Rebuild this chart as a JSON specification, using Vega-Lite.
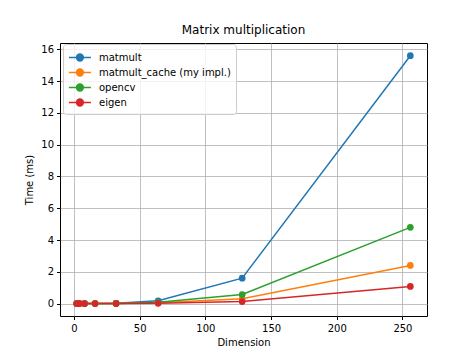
{
  "$schema": "https://vega.github.io/schema/vega-lite/v6.json",
  "width": 367,
  "height": 273,
  "padding": {"left": 60, "top": 43, "right": 47, "bottom": 39},
  "autosize": {"type": "none"},
  "config": {
    "font": "DejaVu Sans",
    "view": {"stroke": "black", "strokeWidth": 1},
    "axis": {"labelFont": "DejaVu Sans", "titleFont": "DejaVu Sans", "labelFontSize": 10, "titleFontSize": 10, "titleFontWeight": "normal", "labelColor": "black", "titleColor": "black", "tickColor": "black", "domain": false, "gridColor": "#b0b0b0", "gridWidth": 0.8, "tickSize": 3.5}
  },
  "title": {"text": "Matrix multiplication", "fontSize": 12, "fontWeight": "normal", "font": "DejaVu Sans", "color": "black", "offset": 6},
  "data": {"values": [
    {"dim": 2, "t": 0.0, "s": "matmult"},
    {"dim": 4, "t": 0.0, "s": "matmult"},
    {"dim": 8, "t": 0.0, "s": "matmult"},
    {"dim": 16, "t": 0.0, "s": "matmult"},
    {"dim": 32, "t": 0.02, "s": "matmult"},
    {"dim": 64, "t": 0.18, "s": "matmult"},
    {"dim": 128, "t": 1.6, "s": "matmult"},
    {"dim": 256, "t": 15.6, "s": "matmult"},
    {"dim": 2, "t": 0.0, "s": "matmult_cache (my impl.)"},
    {"dim": 4, "t": 0.0, "s": "matmult_cache (my impl.)"},
    {"dim": 8, "t": 0.0, "s": "matmult_cache (my impl.)"},
    {"dim": 16, "t": 0.0, "s": "matmult_cache (my impl.)"},
    {"dim": 32, "t": 0.01, "s": "matmult_cache (my impl.)"},
    {"dim": 64, "t": 0.05, "s": "matmult_cache (my impl.)"},
    {"dim": 128, "t": 0.3, "s": "matmult_cache (my impl.)"},
    {"dim": 256, "t": 2.4, "s": "matmult_cache (my impl.)"},
    {"dim": 2, "t": 0.0, "s": "opencv"},
    {"dim": 4, "t": 0.0, "s": "opencv"},
    {"dim": 8, "t": 0.0, "s": "opencv"},
    {"dim": 16, "t": 0.0, "s": "opencv"},
    {"dim": 32, "t": 0.01, "s": "opencv"},
    {"dim": 64, "t": 0.08, "s": "opencv"},
    {"dim": 128, "t": 0.57, "s": "opencv"},
    {"dim": 256, "t": 4.8, "s": "opencv"},
    {"dim": 2, "t": 0.0, "s": "eigen"},
    {"dim": 4, "t": 0.0, "s": "eigen"},
    {"dim": 8, "t": 0.0, "s": "eigen"},
    {"dim": 16, "t": 0.0, "s": "eigen"},
    {"dim": 32, "t": 0.0, "s": "eigen"},
    {"dim": 64, "t": 0.02, "s": "eigen"},
    {"dim": 128, "t": 0.13, "s": "eigen"},
    {"dim": 256, "t": 1.08, "s": "eigen"}
  ]},
  "encoding": {
    "x": {"field": "dim", "type": "quantitative", "title": "Dimension",
      "scale": {"domain": [-10.7, 268.7], "nice": false, "zero": false},
      "axis": {"values": [0, 50, 100, 150, 200, 250], "labelPadding": 4, "titlePadding": 4}},
    "y": {"field": "t", "type": "quantitative", "title": "Time (ms)",
      "scale": {"domain": [-0.78, 16.4], "nice": false, "zero": false},
      "axis": {"values": [0, 2, 4, 6, 8, 10, 12, 14, 16], "labelPadding": 3, "titlePadding": 6}},
    "color": {"field": "s", "type": "nominal",
      "scale": {"domain": ["matmult", "matmult_cache (my impl.)", "opencv", "eigen"], "range": ["#1f77b4", "#ff7f0e", "#2ca02c", "#d62728"]},
      "legend": {"title": null, "orient": "none", "legendX": 3, "legendY": 1, "labelFontSize": 10, "labelFont": "DejaVu Sans", "labelColor": "black",
        "symbolType": "M-1,0H1.9M0,0A0.45,0.45 0 1,1 0.9,0A0.45,0.45 0 1,1 0,0Z",
        "symbolSize": 230, "symbolStrokeWidth": 1.5, "symbolFillColor": null,
        "fillColor": "rgba(255,255,255,0.8)", "strokeColor": "#cccccc", "padding": 5, "cornerRadius": 3, "rowPadding": 0, "labelOffset": 14}}
  },
  "layer": [
    {"mark": {"type": "line", "strokeWidth": 1.5}},
    {"mark": {"type": "point", "filled": true, "size": 45, "opacity": 1}}
  ]
}
